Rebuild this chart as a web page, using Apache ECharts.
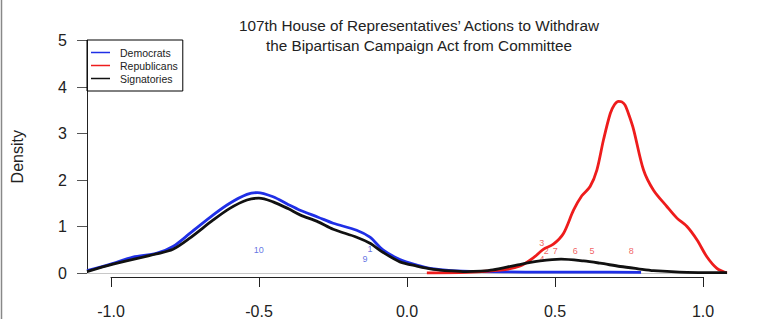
<!DOCTYPE html>
<html>
<head>
<meta charset="utf-8">
<script src="https://cdn.jsdelivr.net/npm/echarts@6/dist/echarts.min.js"></script>
<style>
  html, body { margin: 0; padding: 0; background: #fff; }
  #chart { width: 768px; height: 319px; }
</style>
</head>
<body>
<div id="chart"></div>
<script>
var titleText = '107th House of Representatives\u2019 Actions to Withdraw\nthe Bipartisan Campaign Act from Committee';
var seriesNames = ['Democrats', 'Republicans', 'Signatories'];
var yTicks = [0, 1, 2, 3, 4, 5];
var xTicks = [-1.0, -0.5, 0.0, 0.5, 1.0];

// density curves, [x, density]
var demDensity = [
  [-1.08, 0.05], [-1.0, 0.19], [-0.925, 0.34], [-0.846, 0.42], [-0.79, 0.57],
  [-0.733, 0.85], [-0.654, 1.25], [-0.598, 1.50], [-0.54, 1.69], [-0.505, 1.73],
  [-0.452, 1.64], [-0.40, 1.47], [-0.361, 1.35], [-0.30, 1.20], [-0.249, 1.07],
  [-0.17, 0.92], [-0.125, 0.77], [-0.08, 0.49], [-0.024, 0.29], [0.033, 0.17],
  [0.078, 0.10], [0.15, 0.05], [0.25, 0.03], [0.4, 0.02], [0.6, 0.02], [0.79, 0.015]
];
var repDensity = [
  [0.067, 0.0], [0.2, 0.015], [0.314, 0.06], [0.382, 0.15], [0.427, 0.33],
  [0.46, 0.51], [0.494, 0.62], [0.528, 0.85], [0.562, 1.35], [0.59, 1.66],
  [0.618, 1.86], [0.641, 2.22], [0.663, 2.86], [0.686, 3.43], [0.70, 3.62],
  [0.714, 3.69], [0.725, 3.68], [0.736, 3.61], [0.75, 3.38], [0.765, 3.08],
  [0.798, 2.22], [0.832, 1.78], [0.877, 1.43], [0.911, 1.18], [0.945, 1.0],
  [0.979, 0.71], [1.012, 0.35], [1.046, 0.10], [1.08, 0.0]
];
var sigDensity = [
  [-1.08, 0.03], [-0.992, 0.19], [-0.846, 0.41], [-0.79, 0.51], [-0.733, 0.75],
  [-0.654, 1.14], [-0.598, 1.39], [-0.54, 1.57], [-0.5, 1.61], [-0.452, 1.53],
  [-0.40, 1.38], [-0.361, 1.25], [-0.30, 1.10], [-0.249, 0.94], [-0.17, 0.77],
  [-0.125, 0.64], [-0.08, 0.44], [-0.024, 0.24], [0.033, 0.15], [0.089, 0.08],
  [0.15, 0.045], [0.2, 0.03], [0.25, 0.04], [0.29, 0.065], [0.37, 0.17],
  [0.449, 0.26], [0.52, 0.30], [0.596, 0.26], [0.652, 0.21], [0.72, 0.14],
  [0.78, 0.09], [0.832, 0.05], [0.945, 0.015], [1.08, 0.01]
];

// member numbers written on the plot, [x, y, label]
var demLabels = [[-0.5, 0.49, '10'], [-0.125, 0.52, '1'], [-0.142, 0.30, '9']];
var repLabels = [
  [0.455, 0.65, '3'], [0.47, 0.47, '2'], [0.456, 0.31, '4'], [0.50, 0.48, '7'],
  [0.568, 0.48, '6'], [0.624, 0.48, '5'], [0.757, 0.48, '8']
];

var blue = '#1f2fe6';
var red = '#ee1c1c';
var black = '#111111';
var font = 'Liberation Sans, Arial, sans-serif';

function curve(name, data, color, z) {
  return {
    name: name, type: 'line', data: data, xAxisIndex: 0, yAxisIndex: 0,
    smooth: 0.3, showSymbol: false, symbol: 'none',
    lineStyle: { color: color, width: 2.8 }, itemStyle: { color: color }, z: z
  };
}

function numbers(data, color) {
  return {
    type: 'scatter', data: data, xAxisIndex: 0, yAxisIndex: 0,
    symbolSize: 0, silent: true,
    label: {
      show: true, position: 'inside', color: color, fontSize: 9, fontFamily: font,
      formatter: function(p) { return p.value[2]; }
    }
  };
}

var chart = echarts.init(document.getElementById('chart'), null, { renderer: 'svg' });
chart.setOption({
  animation: false,
  backgroundColor: '#fff',
  textStyle: { fontFamily: font },
  title: {
    text: titleText, left: 414, top: 10, textAlign: 'center',
    textStyle: { fontSize: 15.3, fontWeight: 'normal', color: '#222', lineHeight: 20, fontFamily: font }
  },
  legend: {
    data: seriesNames, orient: 'vertical', left: 87, top: 40,
    padding: [6, 5, 6, 4], itemGap: 0, itemWidth: 19, itemHeight: 1.5, icon: 'rect',
    borderColor: '#000', borderWidth: 1, borderRadius: 0,
    textStyle: { fontSize: 10.5, color: '#222', lineHeight: 13, padding: [0, 0, 0, 5], fontFamily: font }
  },
  graphic: [{
    type: 'line', shape: { x1: 1.5, y1: 0, x2: 1.5, y2: 319 },
    style: { stroke: '#888', lineWidth: 1.5 }
  }],
  grid: [
    { left: 87, width: 640, top: 40.5, height: 232.5 },
    { left: 111, width: 592, top: 250, height: 32 }
  ],
  xAxis: [
    {
      gridIndex: 0, type: 'value', min: -1.08, max: 1.08,
      axisLine: { show: true, onZero: false, lineStyle: { color: '#c8c8c8', width: 1 } },
      axisTick: { show: false }, axisLabel: { show: false }, splitLine: { show: false }
    },
    {
      gridIndex: 1, type: 'value', min: xTicks[0], max: xTicks[xTicks.length - 1], interval: 0.5,
      axisLine: { show: true, onZero: false, lineStyle: { color: '#222', width: 1 } },
      axisTick: { show: true, length: 10, lineStyle: { color: '#222' } },
      axisLabel: { color: '#222', fontSize: 16, margin: 26, formatter: function(v) { return v.toFixed(1); } },
      splitLine: { show: false }
    }
  ],
  yAxis: [
    {
      gridIndex: 0, type: 'value', min: yTicks[0], max: yTicks[yTicks.length - 1], interval: 1,
      name: 'Density', nameLocation: 'middle', nameGap: 62, nameRotate: 90,
      nameTextStyle: { fontSize: 16, color: '#222', fontFamily: font },
      axisLine: { show: true, onZero: false, lineStyle: { color: '#222', width: 1 } },
      axisTick: { show: true, length: 10, lineStyle: { color: '#555' } },
      axisLabel: { color: '#222', fontSize: 16, margin: 20 },
      splitLine: { show: false }
    },
    { gridIndex: 1, type: 'value', show: false }
  ],
  series: [
    curve(seriesNames[0], demDensity, blue, 2),
    curve(seriesNames[1], repDensity, red, 3),
    curve(seriesNames[2], sigDensity, black, 4),
    numbers(demLabels, '#3a4fdc'),
    numbers(repLabels, '#ee3a3a')
  ]
});
</script>
</body>
</html>
